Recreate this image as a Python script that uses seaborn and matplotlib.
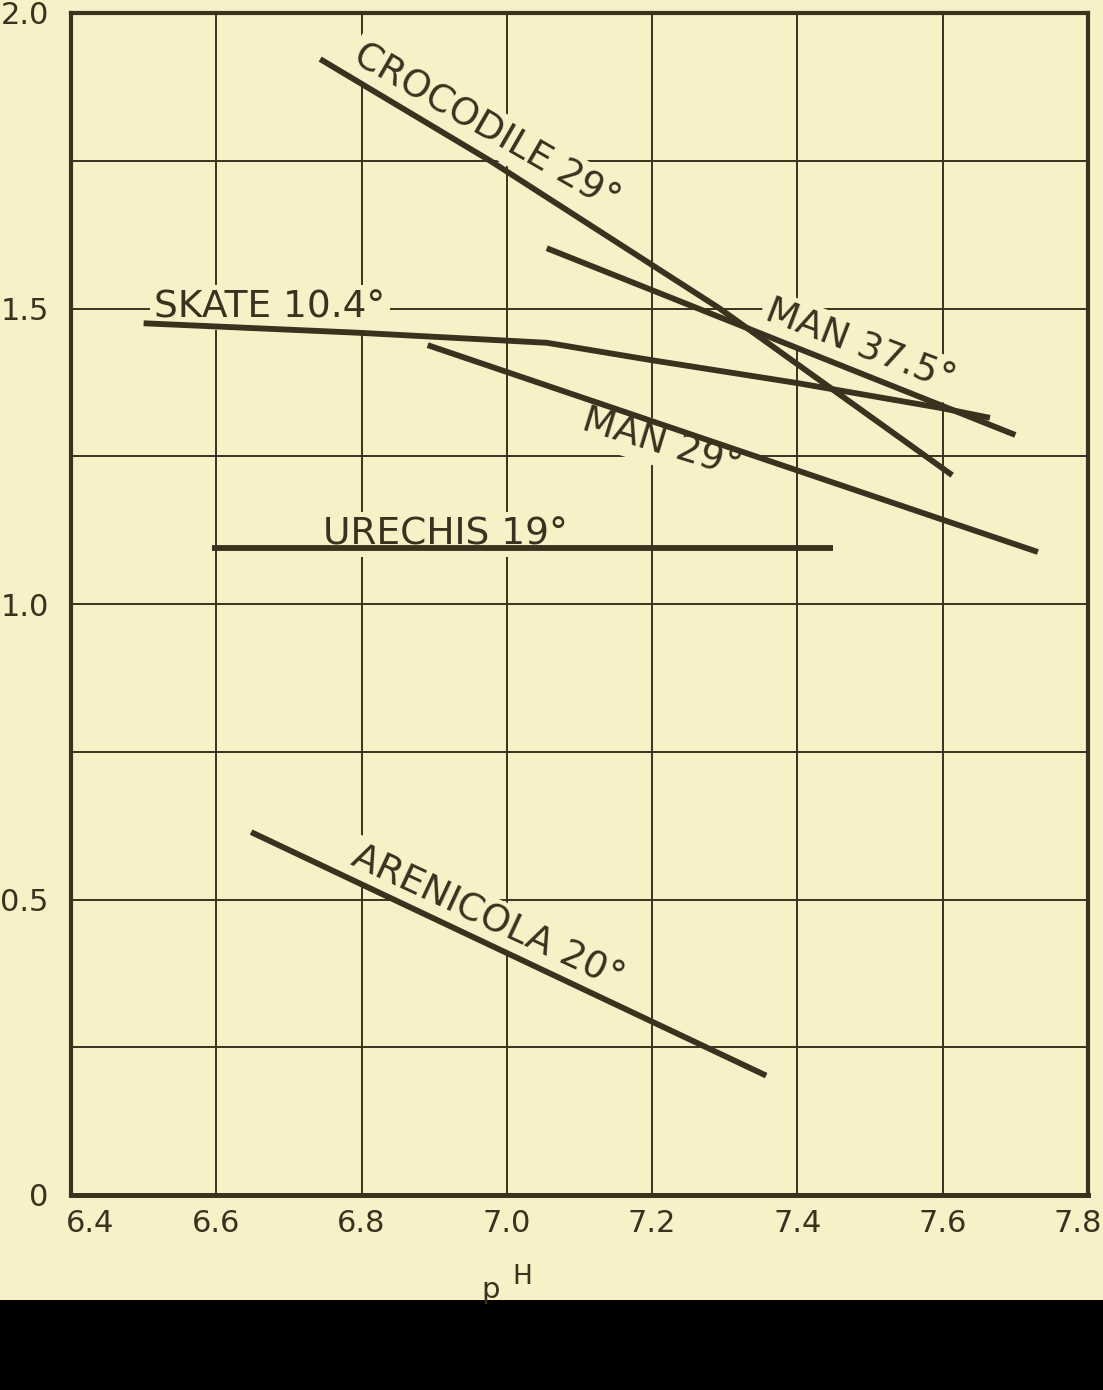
import matplotlib
matplotlib.use("Agg")
import matplotlib.pyplot as plt
import matplotlib.transforms as mtransforms
from matplotlib.patches import Rectangle
import seaborn as sns
import pandas as pd

# ---------------- data ----------------
ph_ticks = [6.4, 6.6, 6.8, 7.0, 7.2, 7.4, 7.6, 7.8]
ph_tick_labels = ["6.4", "6.6", "6.8", "7.0", "7.2", "7.4", "7.6", "7.8"]
y_ticks = [0, 0.25, 0.5, 0.75, 1.0, 1.25, 1.5, 1.75, 2.0]
y_tick_labels = ["0", "", "0.5", "", "1.0", "", "1.5", "", "2.0"]

crocodile_ph = [6.743, 6.977, 7.293, 7.613]
crocodile_val = [1.922, 1.750, 1.500, 1.218]

man375_ph = [7.055, 7.700]
man375_val = [1.602, 1.286]

skate_ph = [6.500, 6.795, 7.055, 7.197, 7.399, 7.596, 7.665]
skate_val = [1.475, 1.459, 1.442, 1.413, 1.374, 1.332, 1.315]

man29_ph = [6.891, 7.731]
man29_val = [1.438, 1.088]

urechis_ph = [6.594, 7.449]
urechis_val = [1.095, 1.095]

arenicola_ph = [6.648, 7.357]
arenicola_val = [0.614, 0.202]

series_names = ["crocodile", "man375", "skate", "man29", "urechis", "arenicola"]
series_ph = [crocodile_ph, man375_ph, skate_ph, man29_ph, urechis_ph, arenicola_ph]
series_val = [crocodile_val, man375_val, skate_val, man29_val, urechis_val, arenicola_val]

label_texts = ["CROCODILE 29°", "MAN 37.5°", "SKATE 10.4°", "MAN 29°", "URECHIS 19°", "ARENICOLA 20°"]
label_ph = [6.972, 7.486, 6.674, 7.213, 6.915, 6.973]
label_val = [1.805, 1.436, 1.501, 1.270, 1.117, 0.468]
label_rot = [-30, -21, 0, -17, 0, -25]

# ---------------- style ----------------
bg = "#f8f1c8"
ink = "#3a311f"

sns.set_theme(style="white")
plt.rcParams["font.family"] = ["DejaVu Sans"]

fig = plt.figure(figsize=(11.03, 13.90), dpi=100, facecolor=bg)
ax = fig.add_axes([71 / 1103, 1 - 1195 / 1390, (1088 - 71) / 1103, (1195 - 13) / 1390])
ax.set_facecolor(bg)

rows = []
for name, xs, ys in zip(series_names, series_ph, series_val):
    for i, (x, y) in enumerate(zip(xs, ys)):
        rows.append({"series": name, "order": i, "pH": x, "value": y})
df = pd.DataFrame(rows)

for name in series_names:
    sub = df[df["series"] == name]
    sns.lineplot(data=sub, x="pH", y="value", sort=False, estimator=None,
                 color=ink, linewidth=4.2, ax=ax, zorder=3,
                 solid_capstyle="butt")

for t, x, y, r in zip(label_texts, label_ph, label_val, label_rot):
    ax.text(x, y, t, rotation=r, rotation_mode="anchor", ha="center", va="center",
            fontsize=27, color=ink, zorder=2,
            bbox=dict(boxstyle="square,pad=0.12", fc=bg, ec="none"))

ax.set_xlim(6.4, 7.8)
ax.set_ylim(0, 2.0)
ax.set_xticks(ph_ticks)
ax.set_xticklabels(ph_tick_labels)
ax.set_yticks(y_ticks)
ax.set_yticklabels(y_tick_labels)
ax.tick_params(axis="both", length=0, labelsize=22, colors=ink)
ax.tick_params(axis="x", pad=10)
ax.tick_params(axis="y", pad=16)
ax.set_xlabel("")
ax.set_ylabel("")

# nudge the end tick labels like the reference
xlabels = ax.get_xticklabels()
xlabels[0].set_transform(xlabels[0].get_transform() +
                         mtransforms.ScaledTranslation(19 / 100, 0, fig.dpi_scale_trans))
xlabels[-1].set_transform(xlabels[-1].get_transform() +
                          mtransforms.ScaledTranslation(-10 / 100, 0, fig.dpi_scale_trans))

ax.set_axisbelow(True)
ax.grid(True, color=ink, linewidth=1.4)
for side in ["left", "right", "top", "bottom"]:
    ax.spines[side].set_visible(True)
    ax.spines[side].set_color(ink)
    ax.spines[side].set_linewidth(3.0)
ax.spines["bottom"].set_linewidth(3.6)

fig.text(491 / 1103, 1 - 1290 / 1390, "p", fontsize=21, color=ink, ha="center", va="center")
fig.text(522 / 1103, 1 - 1277 / 1390, "H", fontsize=19, color=ink, ha="center", va="center")

fig.patches.append(Rectangle((0, 0), 1, 90 / 1390, transform=fig.transFigure,
                             facecolor="black", edgecolor="none", zorder=0))

fig.savefig("out.png", dpi=100, facecolor=bg)
